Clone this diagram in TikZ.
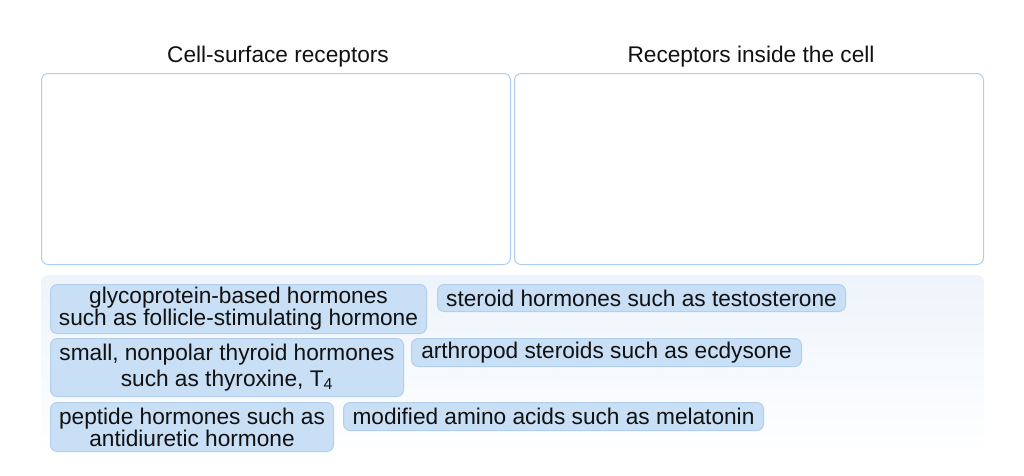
\documentclass[tikz,border=0pt]{standalone}
\usepackage{fontspec}
\setmainfont{Liberation Sans}

\definecolor{zoneline}{HTML}{ABCDF0}
\definecolor{panelfill}{HTML}{EEF4FB}
\definecolor{tilefill}{HTML}{C8DFF5}
\definecolor{tileline}{HTML}{B2D0EE}
\definecolor{textcol}{HTML}{111111}

\begin{document}
\begin{tikzpicture}[x=0.75pt, y=-0.75pt, line width=0.75pt,
  heading/.style={font=\fontsize{17}{19}\selectfont, text=textcol},
  dropzone/.style={draw=zoneline, fill=white, rounded corners=5pt, anchor=north west, inner sep=0pt},
  tile/.style={draw=tileline, fill=tilefill, rounded corners=5pt, align=center, anchor=north west,
    inner sep=0pt, text=textcol, font=\fontsize{17}{16.5}\selectfont}]

\useasboundingbox (0,0) rectangle (1024,475);

\node [heading] (cellhead) at (278,57) {Cell-surface receptors};
\node [heading] (insidehead) at (751,57) {Receptors inside the cell};

\node [dropzone, minimum width=351.75pt, minimum height=143.25pt] (cellzone) at (41,73) {};
\node [dropzone, minimum width=351.75pt, minimum height=143.25pt] (insidezone) at (514,73) {};

\shade [rounded corners=5pt, top color=panelfill, bottom color=white] (41,275) rectangle (984,460);

\node [tile, minimum width=282pt, minimum height=36.75pt] (glyco) at (50,284)
  {glycoprotein-based hormones\\such as follicle-stimulating hormone};
\node [tile, minimum width=306pt, minimum height=20.25pt] (steroid) at (437,284)
  {steroid hormones such as testosterone};

\node [tile, minimum width=264.75pt, minimum height=43.5pt] (thyroid) at (50,338)
  {small, nonpolar thyroid hormones\\[3pt]such as thyroxine, T\textsubscript{4}};
\node [tile, minimum width=292.5pt, minimum height=21pt] (arthropod) at (411,338)
  {arthropod steroids such as ecdysone};

\node [tile, minimum width=212.25pt, minimum height=36.75pt] (peptide) at (50,402)
  {peptide hormones such as\\antidiuretic hormone};
\node [tile, minimum width=315pt, minimum height=21pt] (amino) at (343,402)
  {modified amino acids such as melatonin};

\end{tikzpicture}
\end{document}
